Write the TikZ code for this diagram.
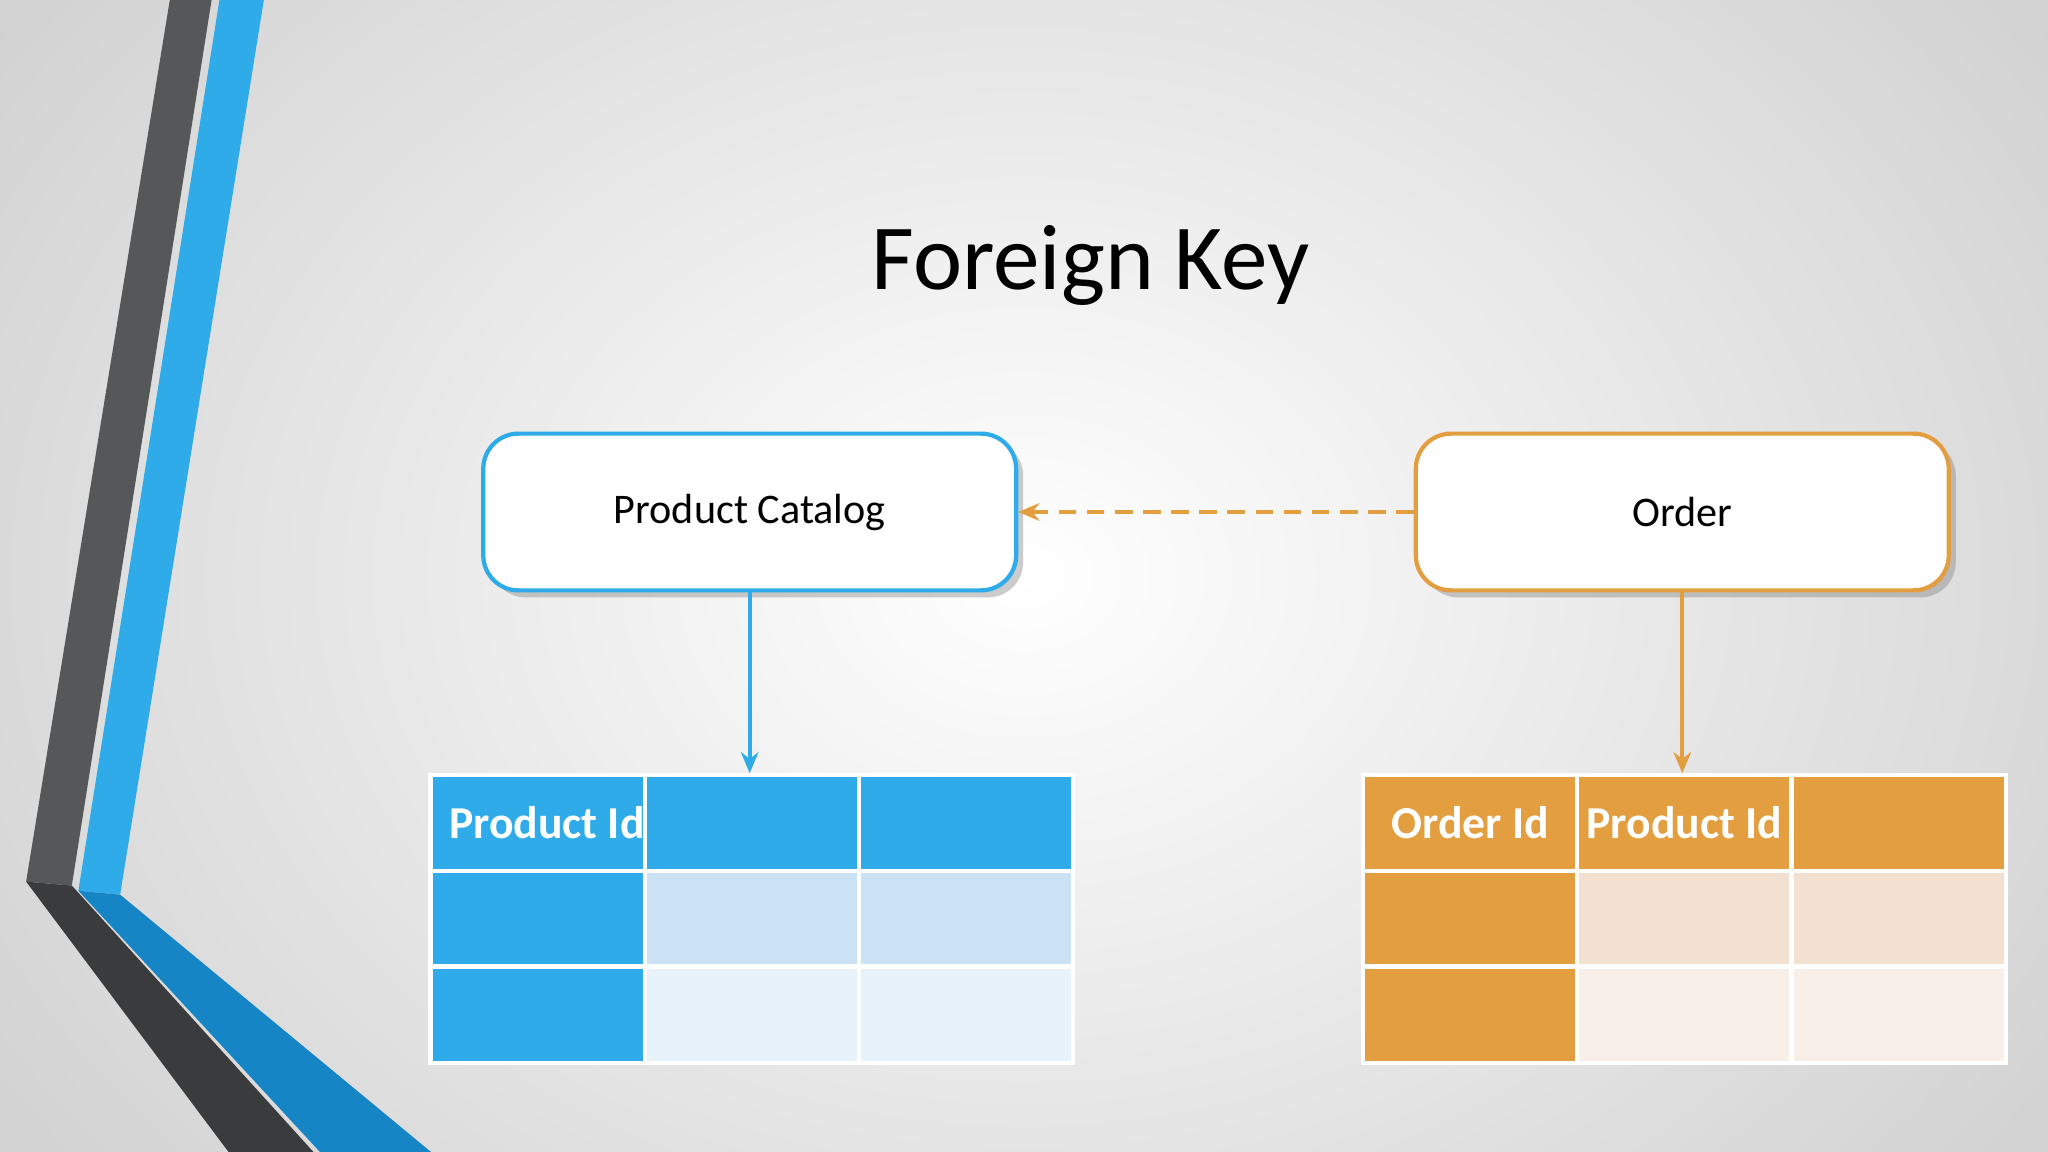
\documentclass[tikz,border=0pt]{standalone}
\usepackage{fontspec}
\setmainfont{Carlito}
\usetikzlibrary{arrows.meta,shadows}
\definecolor{bl}{HTML}{2EABE8}
\definecolor{bldk}{HTML}{1685C5}
\definecolor{bl2}{HTML}{CBE2F4}
\definecolor{bl3}{HTML}{E8F2FA}
\definecolor{or}{HTML}{E29E3F}
\definecolor{or2}{HTML}{F2E0D0}
\definecolor{or3}{HTML}{F8EFE8}
\definecolor{dk}{HTML}{555759}
\definecolor{dk2}{HTML}{3A3B3D}
\tikzset{
 ent/.style={draw, line width=1.2pt, fill=white, rounded corners=10pt, minimum width=408*0.01306cm, minimum height=120*0.01306cm, font=\fontsize{12}{14}\selectfont, drop shadow={shadow xshift=2pt, shadow yshift=-2pt, opacity=0.4}},
 cell/.style={draw=white, line width=1.2pt, minimum width=164*0.01306cm, minimum height=73*0.01306cm, anchor=north west, inner sep=0pt, text=white, font=\fontsize{13}{15}\selectfont\bfseries},
 hdr/.style={text=white, inner sep=0pt, font=\fontsize{13}{15}\selectfont\bfseries},
 conn/.style={line width=1.1pt, -{Stealth[length=6pt,width=5pt]}}
}
\begin{document}
\begin{tikzpicture}[x=0.01306cm,y=-0.01306cm]
\useasboundingbox (0,0) rectangle (1568,882);
\shade[inner color=white, outer color=gray!40] (-300,-400) rectangle (1868,1282);
\clip (0,0) rectangle (1568,882);
% stripes
\fill[dk] (130,0) -- (162,0) -- (55,678) -- (20,675) -- cycle;
\fill[dk2] (20,675) -- (55,678) -- (240,882) -- (175,882) -- cycle;
\fill[bl] (168,0) -- (202,0) -- (92,685) -- (60,682) -- cycle;
\fill[bldk] (60,682) -- (92,685) -- (330,882) -- (245,882) -- cycle;
% title
\node (title) at (835,203) {\fontsize{26.5}{32}\selectfont Foreign Key};
% entities
\node[ent, draw=bl] (pc) at (574,392) {Product Catalog};
\node[ent, draw=or] (ord) at (1288,392) {Order};
% tables
\node[cell, fill=bl] (p11) at (328,592) {};
\node[hdr, anchor=west, xshift=0.2cm] (p11t) at (p11.west) {Product Id};
\node[cell, fill=bl] (p12) at (492,592) {};
\node[cell, fill=bl] (p13) at (656,592) {};
\node[cell, fill=bl] (p21) at (328,665) {};
\node[cell, fill=bl2] (p22) at (492,665) {};
\node[cell, fill=bl2] (p23) at (656,665) {};
\node[cell, fill=bl] (p31) at (328,739) {};
\node[cell, fill=bl3] (p32) at (492,739) {};
\node[cell, fill=bl3] (p33) at (656,739) {};
\node[cell, fill=or] (o11) at (1042,592) {Order Id};
\node[cell, fill=or] (o12) at (1206,592) {Product Id};
\node[cell, fill=or] (o13) at (1370,592) {};
\node[cell, fill=or] (o21) at (1042,665) {};
\node[cell, fill=or2] (o22) at (1206,665) {};
\node[cell, fill=or2] (o23) at (1370,665) {};
\node[cell, fill=or] (o31) at (1042,739) {};
\node[cell, fill=or3] (o32) at (1206,739) {};
\node[cell, fill=or3] (o33) at (1370,739) {};
% connectors
\draw[conn, or, dashed, dash pattern=on 5pt off 3pt] (ord.west) -- (pc.east);
\draw[conn, bl] (pc.south) -- (pc.south |- p12.north);
\draw[conn, or] (ord.south) -- (ord.south |- o12.north);
\end{tikzpicture}
\end{document}
